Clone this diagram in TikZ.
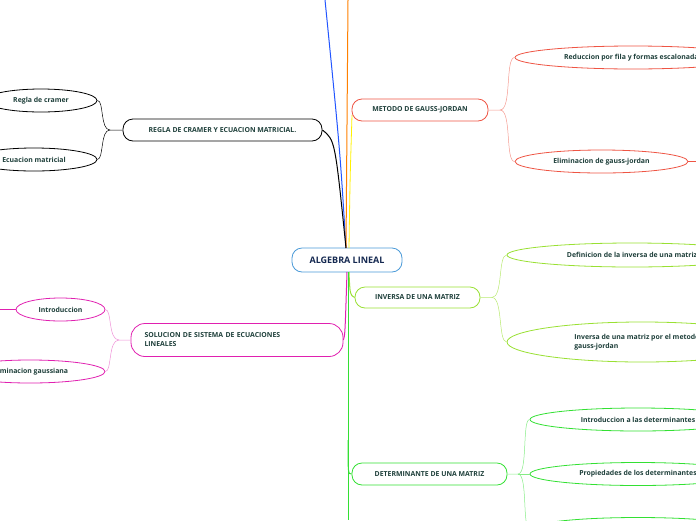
\documentclass[tikz,border=0pt]{standalone}
\usepackage{fontspec}
\setmainfont{Open Sans}
\usetikzlibrary{shapes.geometric}
\definecolor{txt}{HTML}{1E3F3A}
\definecolor{cblue}{HTML}{4A9AD8}
\definecolor{cred}{HTML}{EE5544}
\definecolor{cyg}{HTML}{99E033}
\definecolor{cgr}{HTML}{33E033}
\definecolor{cmag}{HTML}{E020B0}
\definecolor{lblue}{HTML}{2255FF}
\begin{document}
\begin{tikzpicture}[x=1pt,y=-1pt,
  box/.style={draw,rounded corners=10pt,line width=0.8pt,inner sep=0pt,font=\fontsize{6.9}{9}\selectfont\bfseries,text=txt,align=left},
  ell/.style={draw,ellipse,line width=0.8pt,inner sep=0pt,font=\fontsize{6.9}{9}\selectfont\bfseries,text=txt,align=left},
  conn/.style={line width=0.5pt}]
\useasboundingbox (0,0) rectangle (696,520);
\clip (0,0) rectangle (696,520);
% central
\node[box,draw=cblue,minimum width=110,minimum height=24,font=\fontsize{9}{10}\selectfont\bfseries,text={rgb,255:red,20;green,40;blue,80}] (c) at (347,260) {ALGEBRA LINEAL};
\coordinate (ctop) at (346,248);
\coordinate (cbot) at (347,272);
\coordinate (topb) at (325,0);
\coordinate (topo) at (348,0);
\coordinate (botg) at (348,520);
\draw[conn,line width=1pt,lblue] (ctop) .. controls (340,150) .. (topb);
\draw[conn,line width=1pt,orange] (ctop) -- (topo);
\draw[conn,line width=0.8pt,yellow] (349,248) .. controls (350,180) .. (352,115);
% level 1
\node[box,minimum width=199,minimum height=22] (regla) at (222.5,130) {REGLA DE CRAMER Y ECUACION MATRICIAL.};
\node[box,draw=cred,minimum width=136,minimum height=22] (gj) at (420,110) {METODO DE GAUSS-JORDAN};
\node[box,draw=cyg,minimum width=125,minimum height=21] (inv) at (417.5,297.5) {INVERSA DE UNA MATRIZ};
\node[box,draw=cgr,minimum width=155,minimum height=22] (det) at (429.5,474) {DETERMINANTE DE UNA MATRIZ};
\node[box,draw=cmag,minimum width=212,minimum height=33,text width=185,rounded corners=14pt] (sol) at (237,340) {SOLUCION DE SISTEMA DE ECUACIONES\\LINEALES};
\draw[conn,line width=1pt] (regla.east) .. controls (335,140) .. (ctop);
\draw[conn,line width=1pt,cyg] (349,272) .. controls (350,295) .. (inv.west);
\draw[conn,line width=1pt,cgr] (348,272) -- (botg);
\draw[conn,line width=1pt,cgr] (348,440) .. controls (348,474) .. (det.west);
\draw[conn,line width=1pt,cmag] (cbot) .. controls (345,335) .. (sol.east);
% level 2 left
\node[ell,minimum width=112,minimum height=23] (rc) at (41,100.5) {Regla de cramer};
\node[ell,minimum width=126,minimum height=23] (em) at (34,159.5) {Ecuacion matricial};
\draw[conn] (regla.west) -- (110,130) .. controls (100,130) and (104,100) .. (rc.east);
\draw[conn] (110,130) .. controls (100,130) and (104,159) .. (em.east);
\node[ell,draw=cmag,minimum width=89,minimum height=23] (intro) at (60.5,309.5) {Introduccion};
\node[ell,draw=cmag,minimum width=150,minimum height=23] (eg) at (30,371.5) {Eliminacion gaussiana};
\coordinate (il) at (0,309.5);
\draw[conn,line width=1pt,cmag] (il) -- (intro.west);
\draw[conn,cmag!50] (sol.west) -- (119,340) .. controls (108,340) and (112,309.5) .. (intro.east);
\draw[conn,cmag!50] (119,340) .. controls (108,340) and (112,371.5) .. (eg.east);
% level 2 right
\node[ell,draw=cred,minimum width=236,minimum height=23] (red) at (633,57.5) {Reduccion por fila y formas escalonadas};
\node[ell,draw=cred,minimum width=173,minimum height=23] (elg) at (601.5,161.5) {Eliminacion de gauss-jordan};
\coordinate (elr) at (696,161.5);
\draw[conn,line width=1pt,cred] (elg.east) -- (elr);
\draw[conn,cred!60] (gj.east) -- (500,110) .. controls (512,110) and (505,57.5) .. (red.west);
\draw[conn,cred!60] (500,110) .. controls (512,110) and (505,161.5) .. (elg.west);
\node[ell,draw=cyg,minimum width=250,minimum height=24] (def) at (632,255) {Definicion de la inversa de una matriz};
\node[ell,draw=cyg,minimum width=270,minimum height=40] (invgj) at (642,342) {Inversa de una matriz por el metodo de\\gauss-jordan};
\draw[conn,cyg!70] (inv.east) -- (492,297.5) .. controls (503,297.5) and (498,255) .. (def.west);
\draw[conn,cyg!70] (492,297.5) .. controls (503,297.5) and (498,342) .. (invgj.west);
\node[ell,draw=cgr,minimum width=216,minimum height=23] (id) at (638,419.5) {Introduccion a las determinantes};
\node[ell,draw=cgr,minimum width=216,minimum height=23] (pd) at (638,474) {Propiedades de los determinantes};
\node[ell,draw=cgr,minimum width=216,minimum height=23] (d3) at (638,529) {};
\draw[conn,cgr!60] (det.east) -- (518,474) .. controls (528,474) and (522,419.5) .. (id.west);
\draw[conn,cgr!60] (518,474) -- (pd.west);
\draw[conn,cgr!60] (518,474) .. controls (528,474) and (522,529) .. (d3.west);
\end{tikzpicture}
\end{document}
